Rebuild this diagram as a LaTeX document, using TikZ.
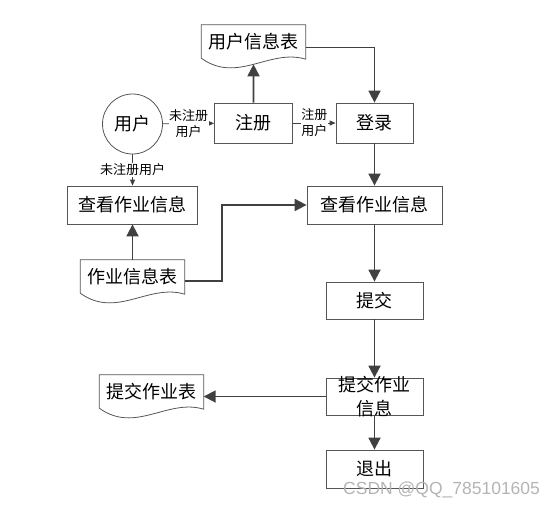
\documentclass[tikz,border=0pt]{standalone}
\usepackage{fontspec}
\setmainfont{Noto Sans CJK SC}
\newfontfamily\markfont{Liberation Sans}
\usetikzlibrary{arrows.meta,positioning}
\definecolor{linegray}{HTML}{404040}
\definecolor{boxgray}{HTML}{555555}
\definecolor{markgray}{HTML}{B4B4B4}

%document outline with wavy bottom
\newcommand{\docoutline}[1]{%
  \draw[draw=boxgray, line width=0.8pt] (#1.north west) -- (#1.north east) -- ([yshift=-1pt]#1.south east)
    .. controls ([xshift=-36pt,yshift=10pt]#1.south east) and ([xshift=36pt,yshift=-26pt]#1.south west) .. (#1.south west)
    coordinate[pos=0.5] (#1-wave) -- cycle;}

\begin{document}
\begin{tikzpicture}[x=1pt, y=-1pt,
  box/.style={rectangle, draw=boxgray, fill=white, line width=0.8pt, inner sep=0pt,
    font=\fontsize{18}{20}\selectfont, align=center},
  doc/.style={rectangle, inner sep=0pt, minimum width=104pt, minimum height=33pt,
    font=\fontsize{18}{20}\selectfont},
  flow/.style={draw=linegray, line width=1.8pt, -{Triangle[length=12pt,width=12pt]}},
  thinflow/.style={draw=linegray, line width=0.8pt, -{Triangle[length=6pt,width=5pt]}},
  lbl/.style={fill=white, inner sep=0.5pt, font=\fontsize{13}{16}\selectfont, align=center}]

\useasboundingbox (0,0) rectangle (554,506);

%user table
\node[doc] (yhxx) at (253.5,41.5) {用户信息表};
\docoutline{yhxx}

%user
\node[circle, draw=boxgray, line width=0.8pt, minimum size=60pt, inner sep=0pt,
  font=\fontsize{18}{20}\selectfont] (yh) at (132.5,124) {用户};

%register
\node[box, minimum width=78pt, minimum height=40pt] (zc) at (253.5,123) {注册};

%login
\node[box, minimum width=77pt, minimum height=40pt] (dl) at (374.5,123) {登录};

%view homework, left
\node[box, minimum width=130pt, minimum height=38pt] (ckl) at (132.5,205) {查看作业信息};

%view homework, right
\node[box, minimum width=135pt, minimum height=38pt] (ckr) at (374.5,205) {查看作业信息};

%homework table
\node[doc] (zyxx) at (132.5,276.5) {作业信息表};
\docoutline{zyxx}

%submit
\node[box, minimum width=97pt, minimum height=37pt] (tj) at (374.5,300.5) {提交};

%submit homework info
\node[box, minimum width=97pt, minimum height=37pt,
  label={[font=\fontsize{18}{24}\selectfont, align=center]center:{提交作业\\信息}}] (tjxx) at (374.5,396.5) {};

%submitted homework table
\node[doc] (tjb) at (151.5,391.5) {提交作业表};
\docoutline{tjb}

%exit
\node[box, minimum width=97pt, minimum height=38pt] (tc) at (374.5,469) {退出};

%Paths
%user to register
\draw[thinflow] (yh) -- node[lbl] {未注册\\用户} (zc);
%register to login
\draw[thinflow] (zc) -- node[lbl] {注册\\用户} (dl);
%user to view left
\draw[thinflow] (yh) -- node[lbl] {未注册用户} (ckl);

%register to user table
\draw[flow] (zc) -- (yhxx-wave);
%user table to login
\draw[flow] ([yshift=-6pt]yhxx.east) -| (dl);

%homework table to view left
\draw[flow] (zyxx) -- (ckl);
%homework table to view right
\draw[flow] ([yshift=-4.5pt]zyxx.east) -- ++(37.5,0) |- (ckr);

%login to view right
\draw[flow] (dl) -- (ckr);
%view right to submit
\draw[flow] (ckr) -- (tj);
%submit to submit info
\draw[flow] (tj) -- (tjxx);
%submit info to table
\draw[flow] (tjxx.west) -- (tjxx.west -| tjb.east);
%submit info to exit
\draw[flow] (tjxx) -- (tc);

%watermark
\node[anchor=base west, inner sep=0pt, text=markgray, font=\markfont\fontsize{17.5}{20}\selectfont]
  (wm) at (343,494) {CSDN @QQ\_785101605};

\end{tikzpicture}
\end{document}
